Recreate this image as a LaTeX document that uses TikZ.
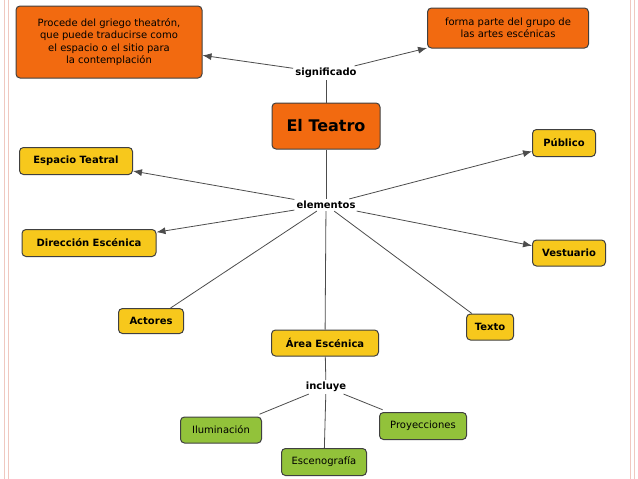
\documentclass[tikz,border=0pt]{standalone}
\usepackage{fontspec}
\setmainfont{DejaVu Sans}
\usetikzlibrary{arrows.meta}
\definecolor{naranja}{HTML}{F26A10}
\definecolor{amarillo}{HTML}{F7C81C}
\definecolor{verde}{HTML}{92C23A}
\definecolor{rosa}{HTML}{F0C8C0}
\tikzset{
  concepto/.style={draw=black!75, rounded corners=4pt, line width=1pt, align=center, inner sep=2pt},
  cnaranja/.style={concepto, fill=naranja},
  camarillo/.style={concepto, fill=amarillo, font=\bfseries\fontsize{10}{11}\selectfont},
  cverde/.style={concepto, fill=verde, font=\fontsize{10}{11}\selectfont},
  enlace/.style={font=\bfseries\fontsize{10}{11}\selectfont, inner sep=2pt},
  flecha/.style={-{Latex[length=9pt,width=7pt]}, black!70, line width=0.8pt},
  linea/.style={black!70, line width=0.8pt}
}
\begin{document}
\begin{tikzpicture}[x=1pt, y=-1pt]
    \useasboundingbox (0,0) rectangle (638,479);
    \draw[rosa, line width=1pt] (4,0) -- (4,479) (8,0) -- (8,479);
    \draw[rosa, line width=1pt] (630,0) -- (630,479) (634,0) -- (634,479);
    % conceptos
    \node[cnaranja, minimum width=186pt, minimum height=72pt, font=\fontsize{10}{12.5}\selectfont] (origen) at (109,42) {Procede del griego theatrón,\\que puede traducirse como\\el espacio o el sitio para\\la contemplación};
    \node[cnaranja, minimum width=161pt, minimum height=40pt, font=\fontsize{10}{12.5}\selectfont] (grupo) at (508,28) {forma parte del grupo de\\las artes escénicas};
    \node[cnaranja, minimum width=108pt, minimum height=46pt, font=\bfseries\fontsize{16}{18}\selectfont] (teatro) at (326,126) {El Teatro};
    \node[camarillo, minimum width=113pt, minimum height=27pt] (espacio) at (76,161) {Espacio Teatral};
    \node[camarillo, minimum width=63pt, minimum height=27pt] (publico) at (564,143) {Público};
    \node[camarillo, minimum width=134pt, minimum height=27pt] (direccion) at (89,243) {Dirección Escénica};
    \node[camarillo, minimum width=73pt, minimum height=26pt] (vestuario) at (569,253) {Vestuario};
    \node[camarillo, minimum width=65pt, minimum height=25pt] (actores) at (151,321) {Actores};
    \node[camarillo, minimum width=47pt, minimum height=26pt] (texto) at (490,327) {Texto};
    \node[camarillo, minimum width=107pt, minimum height=26pt] (area) at (325,343) {Área Escénica};
    \node[cverde, minimum width=81pt, minimum height=26pt] (iluminacion) at (221,430) {Iluminación};
    \node[cverde, minimum width=87pt, minimum height=27pt] (proyecciones) at (423,426) {Proyecciones};
    \node[cverde, minimum width=85pt, minimum height=27pt] (escenografia) at (324,462) {Escenografía};
    % enlaces
    \node[enlace] (significado) at (326,73) {significado};
    \node[enlace] (elementos) at (326,205) {elementos};
    \node[enlace] (incluye) at (326,387) {incluye};
    % conectores
    \draw[linea] (teatro) -- (significado);
    \draw[flecha] (significado) -- (origen);
    \draw[flecha] (significado) -- (grupo);
    \draw[linea] (teatro) -- (elementos);
    \draw[flecha] (elementos) -- (espacio);
    \draw[flecha] (elementos) -- (publico);
    \draw[flecha] (elementos) -- (direccion);
    \draw[flecha] (elementos) -- (vestuario);
    \draw[linea] (elementos) -- (actores);
    \draw[linea] (elementos) -- (texto);
    \draw[linea] (elementos) -- (area);
    \draw[linea] (area) -- (incluye);
    \draw[linea, shorten >=6pt] (incluye) -- (iluminacion);
    \draw[linea, shorten >=6pt] (incluye) -- (proyecciones);
    \draw[linea] (incluye) -- (escenografia);
\end{tikzpicture}
\end{document}
